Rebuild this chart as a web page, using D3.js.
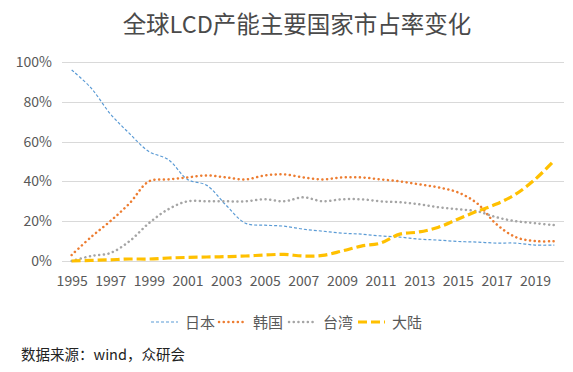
<!DOCTYPE html>
<html><head><meta charset="utf-8">
<script src="https://cdn.jsdelivr.net/npm/d3@7"></script>
<style>body{margin:0;background:#fff;}svg{display:block;}</style>
</head><body>
<script>
const years = [1995,1996,1997,1998,1999,2000,2001,2002,2003,2004,2005,2006,2007,2008,2009,2010,2011,2012,2013,2014,2015,2016,2017,2018,2019,2020];
const japan = [96,87,74,64,55,51,41,38,28,19,18,17.5,16,15,14,13.5,12.6,12,11,10.5,9.8,9.5,9,9,8,8];
const korea = [3,12,20,29,40,41,42,43,42,41,43,43.5,42,41,42,42,41,40,38.5,37,34.5,29,18.5,12,10,10];
const taiwan = [0,2.5,4,10,19,26,30,30,30,30,31,30,32,30,31,31,30,29.5,28.5,27,26,25,22,20,19,18];
const mainland = [0,0.3,0.6,1,1,1.5,1.8,2,2.2,2.5,3,3.3,2.5,2.8,5,7.5,9,13.5,14.6,17,21,25,28.6,33.6,41,50.5];
const seriesNames = ["日本","韩国","台湾","大陆"];
const yTicks = [0,20,40,60,80,100];
const xTickYears = [1995,1997,1999,2001,2003,2005,2007,2009,2011,2013,2015,2017,2019];

const W = 573, H = 372;
const svg = d3.select("body").append("svg").attr("width", W).attr("height", H);

const x = d3.scalePoint().domain(years).range([62, 564]).padding(0.5);
const y = d3.scaleLinear().domain([0, 100]).range([261, 62]);

svg.append("text").attr("x", 297).attr("y", 33).attr("text-anchor", "middle")
  .attr("font-family", "Noto Sans CJK SC").attr("font-size", 23.5).attr("font-weight", 400)
  .attr("fill", "#4a4a4a").text("全球LCD产能主要国家市占率变化");

// gridlines
svg.append("g").selectAll("line").data(yTicks).join("line")
  .attr("x1", 62).attr("x2", 564)
  .attr("y1", d => Math.round(y(d)) + 0.5).attr("y2", d => Math.round(y(d)) + 0.5)
  .attr("stroke", "#D9D9D9").attr("stroke-width", 1);

// y axis labels
const yAxis = d3.axisLeft(y).tickValues(yTicks).tickFormat(d => d + "%").tickSize(0).tickPadding(0);
const gy = svg.append("g").attr("transform", "translate(52,0)").call(yAxis);
gy.select(".domain").remove();
gy.selectAll("text").attr("font-family", "Noto Sans CJK SC").attr("font-size", 14).attr("fill", "#595959");

// x axis labels
const xAxis = d3.axisBottom(x).tickValues(xTickYears).tickSize(0).tickPadding(0);
const gx = svg.append("g").attr("transform", "translate(0,276)").call(xAxis);
gx.select(".domain").remove();
gx.selectAll("text").attr("font-family", "Noto Sans CJK SC").attr("font-size", 14).attr("fill", "#595959");

const styles = [
  {data: japan, color: "#5B9BD5", width: 1.2, dash: "3,2", cap: "butt"},
  {data: korea, color: "#ED7D31", width: 2.5, dash: "0.1,4.6", cap: "round"},
  {data: taiwan, color: "#A5A5A5", width: 2.5, dash: "0.1,4.6", cap: "round"},
  {data: mainland, color: "#FFC000", width: 3.2, dash: "9,4", cap: "butt"}
];
const line = d3.line().x((d, i) => x(years[i])).y(d => y(d)).curve(d3.curveCatmullRom.alpha(0.5));
styles.forEach(s => {
  svg.append("path").datum(s.data).attr("d", line)
    .attr("fill", "none").attr("stroke", s.color).attr("stroke-width", s.width)
    .attr("stroke-dasharray", s.dash).attr("stroke-linecap", s.cap);
});

// legend
const legendX = [151, 219, 289, 358];
const legendY = 322;
seriesNames.forEach((n, i) => {
  const s = styles[i];
  svg.append("line").attr("x1", legendX[i]).attr("x2", legendX[i] + 27)
    .attr("y1", legendY).attr("y2", legendY)
    .attr("stroke", s.color).attr("stroke-width", s.width)
    .attr("stroke-dasharray", s.dash).attr("stroke-linecap", s.cap);
  svg.append("text").attr("x", legendX[i] + 34).attr("y", legendY + 5.5)
    .attr("font-family", "Noto Sans CJK SC").attr("font-size", 15).attr("fill", "#595959").text(n);
});

svg.append("text").attr("x", 21).attr("y", 360)
  .attr("font-family", "Noto Sans CJK SC").attr("font-size", 14.5).attr("fill", "#222")
  .text("数据来源：wind，众研会");
</script>
</body></html>
